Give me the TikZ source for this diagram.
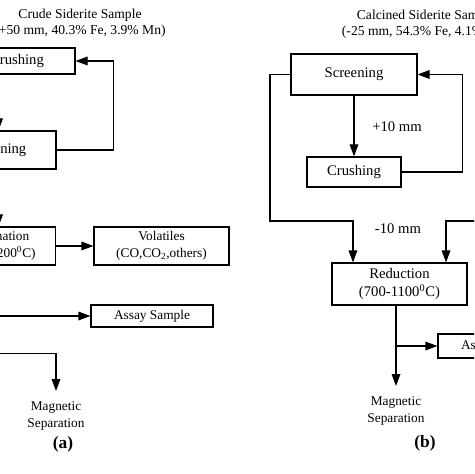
\documentclass[tikz,border=0pt]{standalone}
\usepackage{fontspec}
\setmainfont{Liberation Serif}
\usetikzlibrary{arrows.meta}

\tikzset{
    box/.style={draw, line width=0.9pt, align=center, inner sep=0pt},
    flow/.style={line width=0.9pt, -{Triangle[length=9pt,width=6.5pt]}},
    big/.style={font=\fontsize{11}{13.5}\selectfont},
    small/.style={font=\fontsize{10}{12.75}\selectfont},
    titel/.style={align=center, font=\fontsize{10.2}{12.2}\selectfont},
    ziel/.style={align=center, inner sep=0pt, outer sep=8pt, font=\fontsize{10}{12.75}\selectfont},
    marke/.style={font=\fontsize{13}{15}\selectfont\bfseries},
}

\begin{document}
\begin{tikzpicture}[x=0.75pt,y=-0.75pt]
    \useasboundingbox (0,0) rectangle (474,474);
    \begin{scope}
        \clip (0,0) rectangle (474,474);

        % (a) Rohsiderit
        \node[titel] (title_a) at (80,23) {Crude Siderite Sample\\(+50 mm, 40.3\% Fe, 3.9\% Mn)};
        \node[box,big,minimum width=87pt,minimum height=19.5pt] (crush_a) at (17,61) {Crushing};
        \node[box,big,minimum width=88.5pt,minimum height=28.5pt] (screen_a) at (-3,150) {Screening};
        \node[box,small,minimum width=86pt,minimum height=28.5pt] (calc_a) at (-1.5,246) {Calcination\\(900-1200\textsuperscript{0}C)};
        \node[box,small,minimum width=101.25pt,minimum height=28.5pt] (vol_a) at (161.5,246) {Volatiles\\(CO,CO\textsubscript{2},others)};
        \node[box,small,minimum width=91.5pt,minimum height=16.5pt] (assay_a) at (152,316) {Assay Sample};
        \node[ziel,anchor=north] (mag_a) at (56,391) {Magnetic\\Separation};
        \node[marke] (lab_a) at (63,444) {(a)};

        \draw[flow] (crush_a.south -| calc_a.north) -- (screen_a.north -| calc_a.north);
        \draw[flow] (screen_a.east) -- ++(57,0) |- (crush_a.east);
        \draw[flow] (screen_a.south -| calc_a.north) -- (calc_a.north);
        \draw[flow] (calc_a.east) -- (vol_a.west);
        \draw[flow] (calc_a.south |- assay_a.west) -- (assay_a.west);
        \draw[flow] (calc_a.south) -- ++(0,88) -| (mag_a.north);

        % (b) kalzinierter Siderit
        \node[titel] (title_b) at (426,24) {Calcined Siderite Sample\\(-25 mm, 54.3\% Fe, 4.1\% Mn)};
        \node[box,big,minimum width=94.5pt,minimum height=30.75pt] (screen_b) at (354,74.5) {Screening};
        \node[box,big,minimum width=70.5pt,minimum height=22.5pt] (crush_b) at (354,172) {Crushing};
        \node[box,big,minimum width=101.25pt,minimum height=31.5pt] (red_b) at (399.5,284) {Reduction\\(700-1100\textsuperscript{0}C)};
        \node[box,small,minimum width=91.5pt,minimum height=18pt] (assay_b) at (499,346) {Assay Sample};
        \node[ziel,anchor=north] (mag_b) at (396,386) {Magnetic\\Separation};
        \node[marke] (lab_b) at (425,443) {(b)};
        \node[big] (plus_b) at (397,127) {+10 mm};
        \node[big] (minus_b) at (398,229) {-10 mm};

        \coordinate (in_l) at ([xshift=-34.9pt]red_b.north);
        \coordinate (in_r) at ([xshift=34.9pt]red_b.north);
        \coordinate (feed_b) at (490,221);

        \draw[flow] (screen_b.south) -- (crush_b.north);
        \draw[flow] (crush_b.east) -- ++(61,0) |- (screen_b.east);
        \draw[flow] (screen_b.west) -| (270,221) -| (in_l);
        \draw[flow] (feed_b) -| (in_r);
        \draw[flow] (mag_b.north |- red_b.south) -- (mag_b.north);
        \draw[flow] (mag_b.north |- assay_b.west) -- (assay_b.west);
    \end{scope}
\end{tikzpicture}
\end{document}
